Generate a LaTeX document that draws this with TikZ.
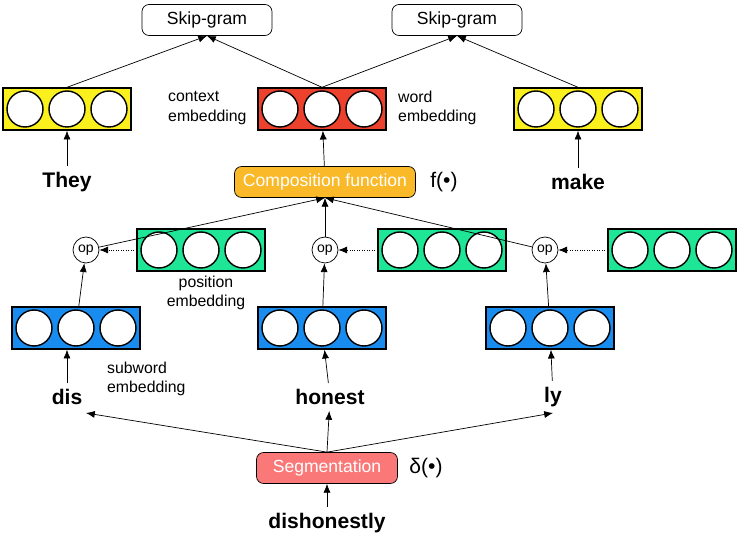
\documentclass[tikz,border=0pt]{standalone}
\usepackage{fontspec}
\setmainfont{Liberation Sans}
\usetikzlibrary{arrows.meta}
\definecolor{embyellow}{RGB}{250,240,30}
\definecolor{embred}{RGB}{235,65,45}
\definecolor{embgreen}{RGB}{30,230,150}
\definecolor{embblue}{RGB}{25,140,240}
\definecolor{compfn}{RGB}{250,185,40}
\definecolor{segpink}{RGB}{250,120,120}
\tikzset{
  emb/.style={draw, thick, minimum width=2.56cm, minimum height=0.84cm},
  bubble/.style={draw, thick, fill=white, circle, minimum size=0.72cm, inner sep=0pt},
  skip/.style={draw, rounded corners=4pt, minimum width=2.6cm, minimum height=0.62cm},
  word/.style={font=\large\bfseries},
  note/.style={align=left, font=\small, anchor=west},
  op/.style={draw, circle, fill=white, minimum size=0.52cm, inner sep=0pt, font=\footnotesize},
  arr/.style={-{Latex[length=5pt,width=4pt]}},
}
\newcommand{\embvec}[3]{%
  \node[emb, fill=#3] (#1) at (#2) {};
  \node[bubble] at ([xshift=-0.84cm]#1.center) {};
  \node[bubble] at (#1.center) {};
  \node[bubble] at ([xshift=0.84cm]#1.center) {};
}
\begin{document}
\begin{tikzpicture}[x=0.02cm,y=-0.02cm]
  \useasboundingbox (0,0) rectangle (745,540);
  % top
  \node[skip] (sg1) at (207,20) {Skip-gram};
  \node[skip] (sg2) at (457,20) {Skip-gram};
  \embvec{ctx}{67,109}{embyellow}
  \embvec{wrd}{322,109}{embred}
  \embvec{ctx2}{578,109}{embyellow}
  \node[note] at (162,108) {context\\embedding};
  \node[note] at (392,108) {word\\embedding};
  \node[word] (they) at (67,182) {They};
  \node[word] (make) at (578,182) {make};
  \node[draw, rounded corners=4pt, fill=compfn, text=white, minimum width=3.62cm, minimum height=0.62cm] (comp) at (325,182) {Composition function};
  \node[font=\large] at (444,182) {f(•)};
  % subwords
  \node[op] (op1) at (86,250) {op};
  \node[op] (op2) at (325,250) {op};
  \node[op] (op3) at (545,250) {op};
  \embvec{pos1}{201,250}{embgreen}
  \embvec{pos2}{442,250}{embgreen}
  \embvec{pos3}{672,250}{embgreen}
  \node[note, anchor=center, align=center] at (206,293) {position\\embedding};
  \embvec{sub1}{76,328}{embblue}
  \embvec{sub2}{322,328}{embblue}
  \embvec{sub3}{550,328}{embblue}
  \node[note] at (101,379) {subword\\embedding};
  \node[word] (dis) at (67,397) {dis};
  \node[word] (hon) at (330,397) {honest};
  \node[word] (ly) at (553,397) {ly};
  \coordinate (disfoot) at (86,413);
  \coordinate (lyfoot) at (553,413);
  \node[draw, rounded corners=4pt, fill=segpink, text=white, minimum width=2.82cm, minimum height=0.62cm] (seg) at (327,468) {Segmentation};
  \node[font=\large] at (426,468) {δ(•)};
  \node[word] (dh) at (327,523) {dishonestly};
  % connectors
  \draw[arr] (dh) -- (seg);
  \draw[arr] (seg.north) -- (disfoot);
  \draw[arr] (seg.north) -- (hon);
  \draw[arr] (seg.north) -- (lyfoot);
  \draw[arr] (dis) -- (dis |- sub1.south);
  \draw[arr] (hon) -- (sub2);
  \draw[arr] (ly) -- (sub3);
  \draw[arr] (sub1) -- (op1);
  \draw[arr] (sub2) -- (op2);
  \draw[arr] (sub3) -- (op3);
  \draw[arr, densely dotted] (pos1) -- (op1);
  \draw[arr, densely dotted] (pos2) -- (op2);
  \draw[arr, densely dotted] (pos3) -- (op3);
  \draw[arr] (op1) -- (comp.south);
  \draw[arr] (op2) -- (comp.south);
  \draw[arr] (op3) -- (comp.south);
  \draw[arr] (comp) -- (wrd);
  \draw[arr] (they) -- (ctx);
  \draw[arr] (make) -- (ctx2);
  \draw[arr] (ctx.north) -- (sg1.south);
  \draw[arr] (wrd.north) -- (sg1.south);
  \draw[arr] (wrd.north) -- (sg2.south);
  \draw[arr] (ctx2.north) -- (sg2.south);
\end{tikzpicture}
\end{document}
